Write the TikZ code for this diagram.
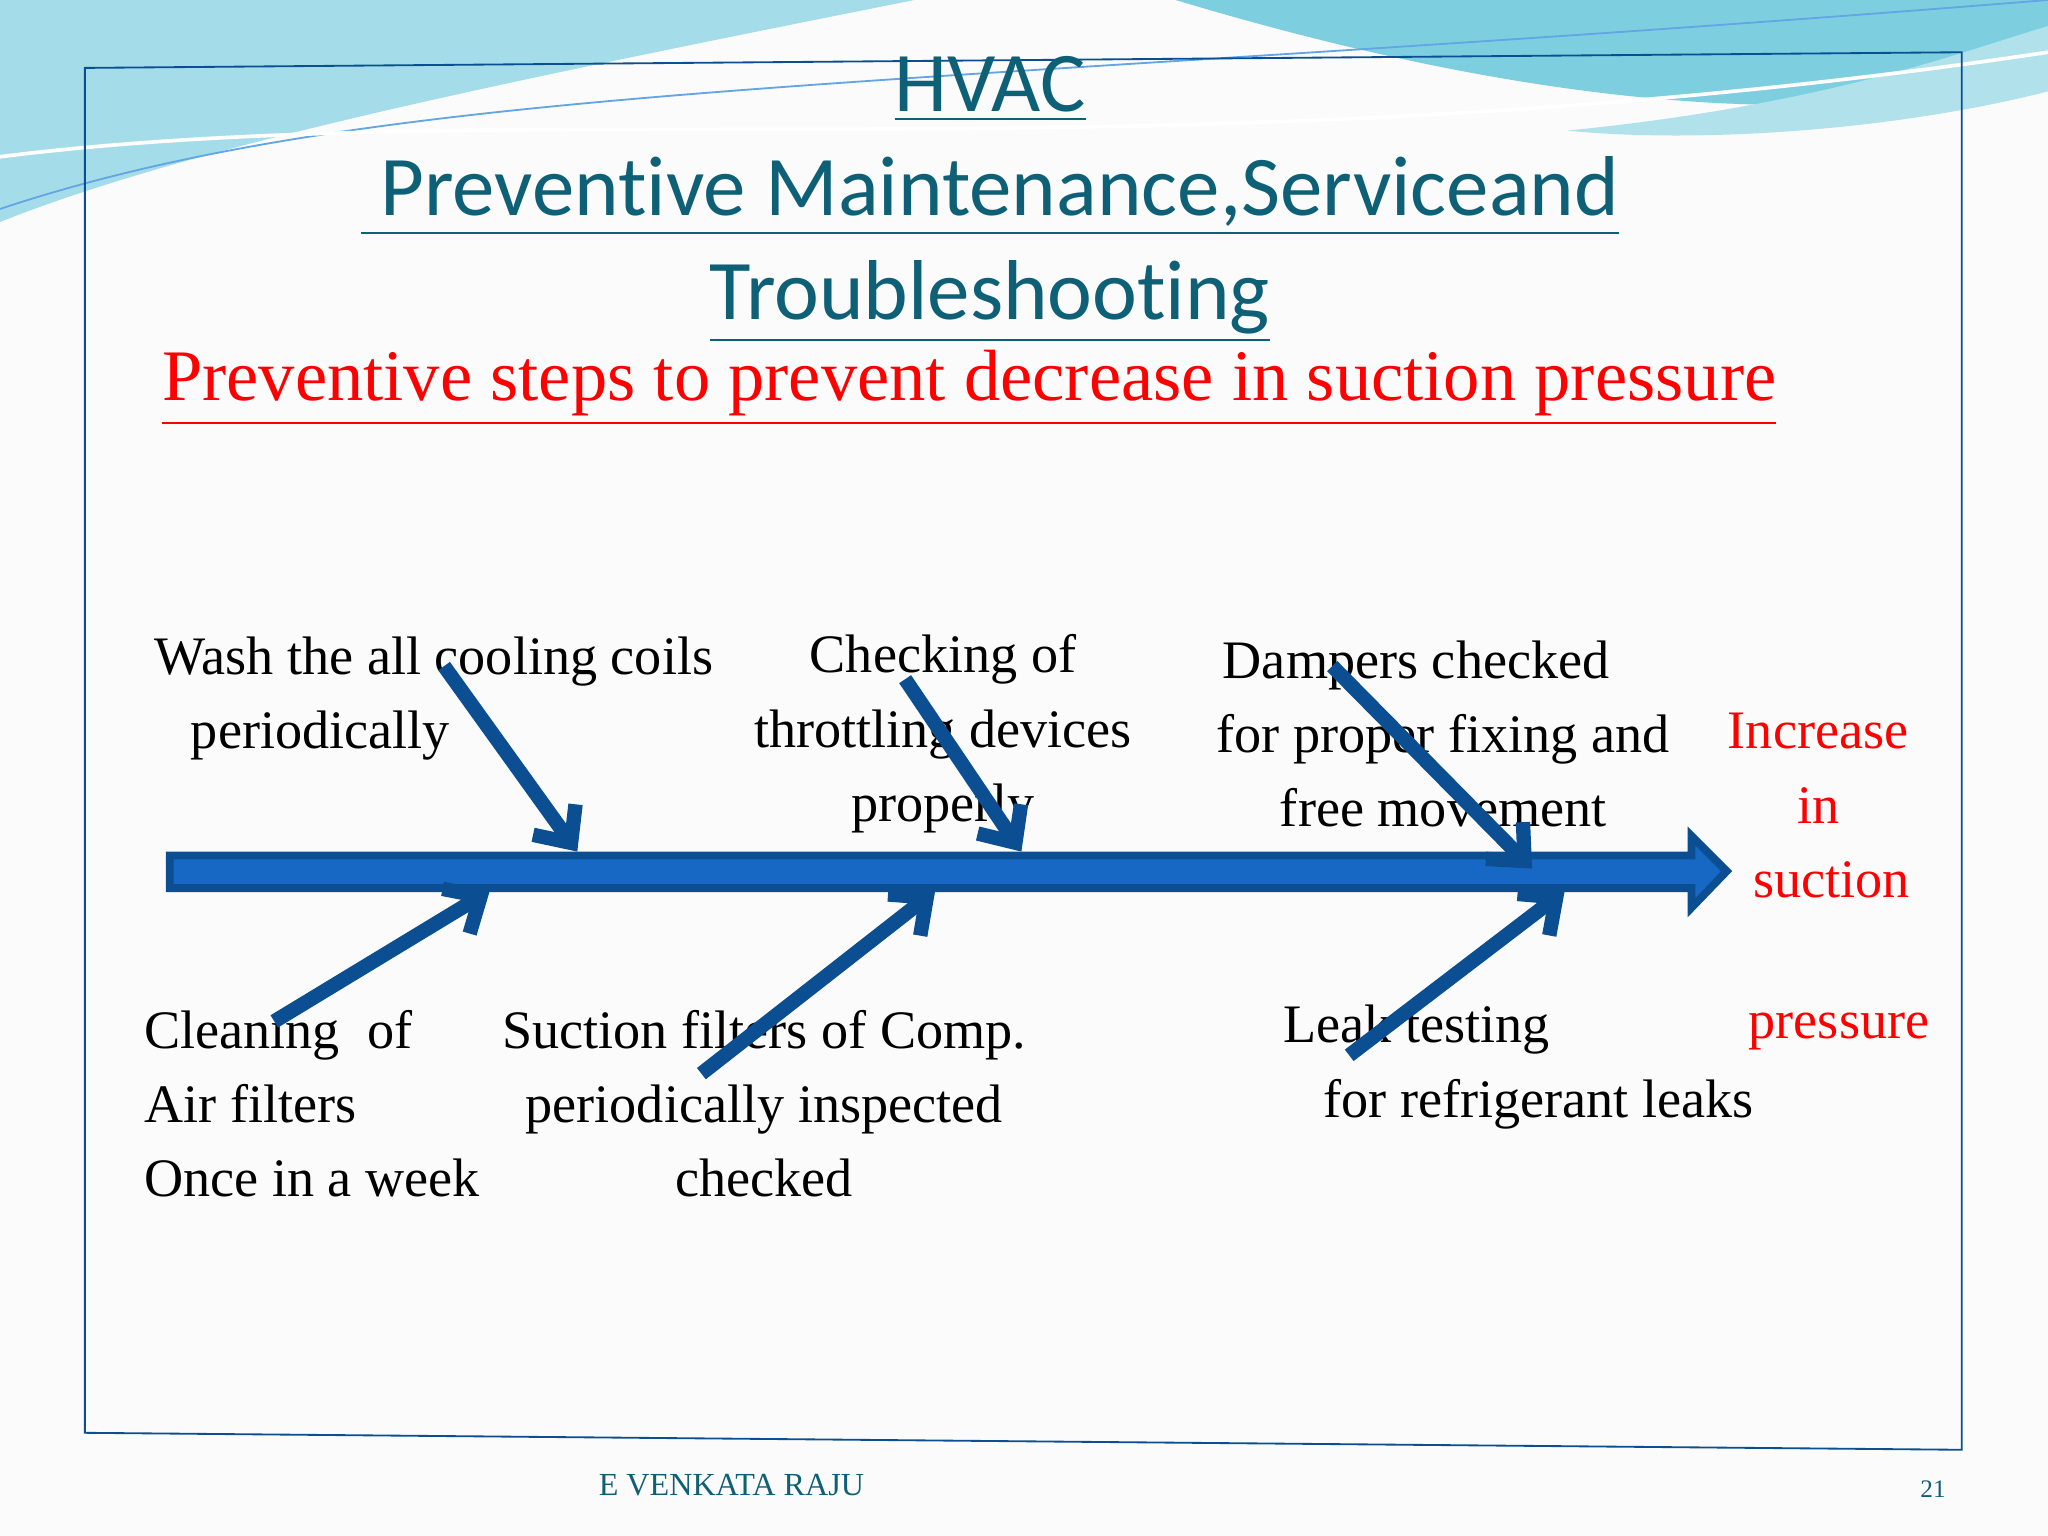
\documentclass[tikz,border=0pt]{standalone}
\usepackage{fontspec}
\setmainfont{Liberation Serif}
\newfontfamily\titlefont[Ligatures=NoCommon]{Carlito}
\usetikzlibrary{arrows.meta}
\definecolor{teal1}{HTML}{0E6077}
\definecolor{boneblue}{HTML}{1668C4}
\definecolor{bonedark}{HTML}{0B4F92}
\definecolor{wave}{HTML}{7DCFE0}
\tikzset{
    body/.style={font=\fontsize{11.8}{16.2}\selectfont, align=center},
    redtxt/.style={body, text=red},
    bone/.style={draw=bonedark, line width=1.1mm, -{Straight Barb[length=2.2mm,width=4mm]}}
}
\begin{document}
\begin{tikzpicture}[x=0.01cm, y=-0.01cm]
    \useasboundingbox (0,0) rectangle (1568,1176);
    \fill[gray!3] (0,0) rectangle (1568,1176);
    % waves at the top
    \fill[wave!70] (0,0) -- (700,0) .. controls (400,60) and (150,110) .. (0,170) -- cycle;
    \fill[wave] (900,0) -- (1568,0) -- (1568,60) .. controls (1350,110) and (1100,60) .. (900,0);
    \fill[wave!60] (1200,100) .. controls (1400,80) and (1500,40) .. (1568,20) -- (1568,70) .. controls (1450,100) and (1300,110) .. (1200,100);
    \draw[wave!80!blue, thin] (0,160) .. controls (300,60) and (700,70) .. (1568,0);
    \draw[white, thick] (0,120) .. controls (400,70) and (900,140) .. (1568,40);
    % frame
    \draw[bonedark, thin] (65,52) -- (1502,40) -- (1502,1110) -- (65,1097) -- cycle;
    % titles
    \node[text=teal1, font=\titlefont\fontsize{18.5}{22.6}\selectfont, align=center] (title) at (758,153)
        {\underline{HVAC}\\\underline{ Preventive Maintenance,Serviceand}\\\underline{Troubleshooting}};
    \node[text=red, font=\fontsize{15.8}{19}\selectfont] (sub) at (742,297)
        {\underline{Preventive steps to prevent decrease in suction pressure}};
    % spine
    \fill[boneblue, draw=bonedark, line width=0.6mm] (130,655) -- (1295,655) -- (1295,640) -- (1322,667)
        -- (1295,695) -- (1295,680) -- (130,680) -- cycle;
    % labels
    \node[body, anchor=west] (wash) at (106,535) {Wash the all cooling coils\\ periodically\phantom{cooling co}};
    \node[body] (check) at (722,562) {Checking of\\throttling devices\\properly};
    \node[body] (damp) at (1105,562) {Dampers checked\phantom{xx}\\for proper fixing and\\free movement};
    \node[redtxt] (effect) at (1392,617) {Increase\\in\\\phantom{x}suction};
    \node[redtxt] (press) at (1408,790) {pressure};
    \node[body, anchor=west, align=left] (clean) at (98,845) {Cleaning\ \ of\\Air filters\\Once in a week};
    \node[body] (suct) at (585,845) {Suction filters of Comp.\\periodically inspected\\checked};
    \node[body] (leak) at (1178,817) {Leak testing\phantom{xxxxxxxxx}\\for refrigerant leaks};
    % bones
    \draw[bone] (340,510) -- (442,652);
    \draw[bone] (693,520) -- (782,652);
    \draw[bone] (1020,510) -- (1173,665);
    \draw[bone] (210,782) -- (375,682);
    \draw[bone] (537,822) -- (716,682);
    \draw[bone] (1033,808) -- (1198,682);
    % footer
    \node[text=teal1, font=\fontsize{7}{9}\selectfont] (author) at (560,1137) {E VENKATA RAJU};
    \node[text=teal1, font=\fontsize{5.5}{7}\selectfont] (page) at (1480,1140) {21};
\end{tikzpicture}
\end{document}
